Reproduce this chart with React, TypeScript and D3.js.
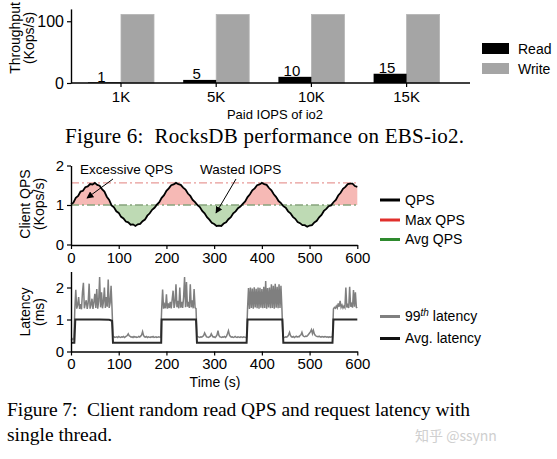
import React, { useEffect, useRef } from "react";
import * as d3 from "d3";

// Figure 6: RocksDB throughput per paid IOPS tier
const iopsTiers = ["1K", "5K", "10K", "15K"];
const readKops = [1, 5, 10, 15];
const writeKops = [111, 111, 111, 111];
const throughputTicks = [0, 100];

// Figure 7 (top): client QPS sampled every 5 s
const qpsStep = 5;
const clientQps = [
  1.02, 1.06, 1.18, 1.23, 1.34, 1.36, 1.45, 1.47, 1.53, 1.52, 1.56, 1.51, 1.49, 1.4, 1.34, 1.21, 1.13, 0.99,
  0.94, 0.84, 0.8, 0.7, 0.66, 0.58, 0.56, 0.5, 0.51, 0.47, 0.51, 0.52, 0.59, 0.63, 0.73, 0.79, 0.88, 0.93,
  1.01, 1.07, 1.18, 1.25, 1.36, 1.42, 1.5, 1.52, 1.56, 1.53, 1.51, 1.44, 1.39, 1.29, 1.23, 1.13, 1.07, 1.0,
  0.95, 0.85, 0.79, 0.69, 0.63, 0.55, 0.52, 0.47, 0.48, 0.47, 0.53, 0.56, 0.64, 0.69, 0.79, 0.84, 0.92, 0.96,
  1.03, 1.09, 1.2, 1.27, 1.37, 1.42, 1.5, 1.52, 1.56, 1.53, 1.51, 1.43, 1.37, 1.27, 1.2, 1.1, 1.05, 0.97,
  0.93, 0.84, 0.79, 0.7, 0.65, 0.57, 0.54, 0.49, 0.49, 0.45, 0.48, 0.49, 0.56, 0.6, 0.69, 0.75, 0.85, 0.9,
  0.97, 0.99, 1.07, 1.13, 1.24, 1.31, 1.41, 1.46, 1.53, 1.54, 1.54, 1.48, 1.46,
];
const maxQps = 1.56;
const avgQps = 1.0;
const qpsTicks = [0, 1, 2];
const timeTicks = [0, 100, 200, 300, 400, 500, 600];

// Figure 7 (bottom): latency in ms
const avgLatency: [number, number][] = [
  [0, 0.27], [7, 0.27], [9, 1.0], [60, 1.0], [80, 0.99], [86, 0.96], [88, 0.27],
  [189, 0.27], [190, 1.0], [262, 1.0], [264, 0.27], [368, 0.27], [370, 1.0],
  [443, 1.0], [445, 0.27], [548, 0.27], [550, 1.0], [600, 1.0],
];
// [start time, 99th percentile samples every 2 s]
const p99Step = 2;
const p99Segments: [number, number[]][] = [
  [0, [0.38, 0.36, 0.4, 0.37]],
  [8, [
    1.33, 1.93, 1.34, 1.45, 1.7, 1.33, 1.48, 1.32, 1.85, 2.15, 1.35, 1.5, 1.6, 1.33, 1.52, 2.12, 1.34, 1.46, 1.65, 1.33,
    1.55, 1.8, 1.36, 1.95, 1.34, 1.58, 2.33, 1.38, 1.85, 1.35, 1.55, 2.0, 1.36, 1.7, 1.4, 2.25, 1.36, 1.52, 2.05, 1.34,
  ]],
  [88, [
    0.47, 0.46, 0.44, 0.45, 0.46, 0.44, 0.47, 0.45, 0.44, 0.46, 0.45, 0.47, 0.44, 0.46, 0.48, 0.5, 0.55, 0.49, 0.47,
    0.45, 0.46, 0.44, 0.47, 0.45, 0.46, 0.44, 0.45, 0.47, 0.45, 0.48, 0.52, 0.62, 0.5, 0.46, 0.45, 0.47, 0.44, 0.46,
    0.45, 0.44, 0.46, 0.45, 0.47, 0.44, 0.45, 0.46, 0.44, 0.45, 0.46, 0.45, 0.44,
  ]],
  [190, [
    1.33, 1.94, 1.34, 1.46, 1.35, 1.79, 1.34, 1.5, 1.36, 1.55, 1.35, 1.62, 1.9, 1.36, 1.52, 2.1, 1.38, 1.58, 1.35,
    2.0, 1.37, 1.55, 1.36, 1.7, 2.33, 1.38, 2.17, 1.4, 1.55, 1.36, 2.1, 1.38, 1.6, 1.35, 1.95, 1.37, 1.34,
  ]],
  [264, [
    0.48, 0.46, 0.45, 0.44, 0.46, 0.45, 0.47, 0.5, 0.58, 0.52, 0.46, 0.45, 0.44, 0.46, 0.48, 0.55, 0.49, 0.45,
    0.46, 0.44, 0.47, 0.52, 0.65, 0.5, 0.46, 0.45, 0.44, 0.46, 0.45, 0.47, 0.44, 0.48, 0.56, 0.65, 0.52, 0.47,
    0.45, 0.46, 0.44, 0.45, 0.47, 0.45, 0.44, 0.46, 0.45, 0.44, 0.46, 0.45, 0.44, 0.46, 0.45, 0.44, 0.45,
  ]],
  [370, [
    1.35, 1.98, 1.33, 2.0, 1.36, 1.97, 1.34, 2.01, 1.38, 1.96, 1.35, 2.0, 1.34, 1.99, 1.37, 1.95, 1.35, 2.02, 1.36,
    2.2, 1.34, 1.98, 1.38, 2.0, 1.35, 2.1, 1.36, 2.05, 1.34, 2.12, 1.37, 2.02, 1.35, 2.1, 1.36, 2.05, 1.35,
  ]],
  [444, [
    0.47, 0.45, 0.44, 0.46, 0.45, 0.47, 0.52, 0.6, 0.5, 0.46, 0.45, 0.47, 0.44, 0.46, 0.48, 0.45, 0.47, 0.46,
    0.5, 0.52, 0.6, 0.5, 0.47, 0.46, 0.48, 0.47, 0.5, 0.54, 0.58, 0.62, 0.68, 0.56, 0.66, 0.55, 0.5, 0.48,
    0.47, 0.46, 0.48, 0.46, 0.45, 0.47, 0.46, 0.45, 0.47, 0.46, 0.45, 0.46, 0.44, 0.46, 0.45, 0.46, 0.45,
  ]],
  [550, [
    1.33, 1.38, 1.35, 1.42, 1.36, 1.5, 1.4, 1.58, 1.38, 1.45, 1.36, 1.42, 1.37, 2.0, 1.38, 1.45, 1.36, 2.02,
    1.4, 1.48, 1.37, 1.92, 1.4, 1.85, 1.38, 1.36,
  ]],
];
const latencyTicks = [0, 1, 2];

const sans = "Liberation Sans, Arial, Helvetica, sans-serif";
const serif = "Liberation Serif, Times New Roman, serif";

const App: React.FC = () => {
  const svgRef = useRef<SVGSVGElement | null>(null);

  useEffect(() => {
    const svg = d3.select(svgRef.current);
    svg.selectAll("*").remove();

    const styleAxis = (g: d3.Selection<SVGGElement, unknown, null, undefined>, size: number) => {
      g.select(".domain").attr("stroke-width", 1.4);
      g.selectAll(".tick line").attr("stroke-width", 1.2);
      g.selectAll(".tick text").style("font-family", sans).style("font-size", `${size}px`).attr("fill", "#000");
    };

    // ---------- Figure 6 ----------
    const f6 = svg.append("g");
    const x0 = d3.scaleBand<string>().domain(iopsTiers).range([73.4, 454.2]).paddingInner(0.3067).paddingOuter(0.1533);
    const x1 = d3.scaleBand<string>().domain(["Read", "Write"]).range([0, x0.bandwidth()]);
    const y6 = d3.scaleLinear().domain([0, 120]).range([83, 8.9]);

    iopsTiers.forEach((tier, i) => {
      const bx = x0(tier) ?? 0;
      f6.append("rect")
        .attr("x", bx + (x1("Write") ?? 0))
        .attr("y", y6(writeKops[i]))
        .attr("width", x1.bandwidth())
        .attr("height", y6(0) - y6(writeKops[i]))
        .attr("fill", "#a5a5a5")
        .attr("stroke", "#b4b4b4")
        .attr("stroke-width", 0.8);
      f6.append("rect")
        .attr("x", bx + (x1("Read") ?? 0))
        .attr("y", y6(readKops[i]))
        .attr("width", x1.bandwidth())
        .attr("height", y6(0) - y6(readKops[i]))
        .attr("fill", "#000");
      f6.append("text")
        .attr("x", bx + (x1("Read") ?? 0) + x1.bandwidth() / 2 - 3)
        .attr("y", y6(readKops[i]) - 0.5)
        .attr("text-anchor", "middle")
        .style("font-family", sans)
        .style("font-size", "15px")
        .text(readKops[i]);
    });

    const y6Axis = f6.append("g")
      .attr("transform", "translate(71,0)")
      .call(d3.axisLeft(y6).tickValues(throughputTicks).tickSize(4).tickSizeOuter(0).tickPadding(3));
    styleAxis(y6Axis, 16);

    const x6Axis = f6.append("g")
      .attr("transform", "translate(0,83)")
      .call(d3.axisBottom(x0).tickSize(4).tickPadding(4));
    x6Axis.select(".domain").remove();
    styleAxis(x6Axis, 15);
    f6.append("line").attr("x1", 71).attr("x2", 470).attr("y1", 83).attr("y2", 83).attr("stroke", "#000").attr("stroke-width", 1.4);

    f6.append("text")
      .attr("x", 275).attr("y", 119).attr("text-anchor", "middle")
      .style("font-family", sans).style("font-size", "13px")
      .text("Paid IOPS of io2");
    const t6 = f6.append("text")
      .attr("transform", "translate(20,38) rotate(-90)")
      .attr("text-anchor", "middle")
      .style("font-family", sans).style("font-size", "14px");
    t6.append("tspan").attr("x", 0).attr("dy", 0).text("Throughput");
    t6.append("tspan").attr("x", 0).attr("dy", 14).text("(Kops/s)");

    const leg6 = [["Read", "#000"], ["Write", "#a5a5a5"]];
    leg6.forEach(([name, color], i) => {
      f6.append("rect").attr("x", 482).attr("y", 43 + i * 20).attr("width", 27).attr("height", 11).attr("fill", color);
      f6.append("text").attr("x", 518).attr("y", 49 + i * 20).attr("dy", "0.35em")
        .style("font-family", sans).style("font-size", "14px").text(name);
    });

    svg.append("text")
      .attr("x", 65).attr("y", 143)
      .attr("textLength", 399).attr("lengthAdjust", "spacing")
      .style("font-family", serif).style("font-size", "21px").style("white-space", "pre")
      .text("Figure 6:  RocksDB performance on EBS-io2.");

    // ---------- Figure 7 top: client QPS ----------
    const xT = d3.scaleLinear().domain([0, 600]).range([71, 357.3]);
    const yQ = d3.scaleLinear().domain([0, 2]).range([244.5, 165.5]);
    const qps = clientQps.map((v, i) => ({ t: i * qpsStep, v }));
    const f7a = svg.append("g");

    f7a.append("path")
      .datum(qps)
      .attr("fill", "#f6b9b5")
      .attr("d", d3.area<{ t: number; v: number }>().x((d) => xT(d.t)).y0(yQ(avgQps)).y1((d) => yQ(Math.max(d.v, avgQps))));
    f7a.append("path")
      .datum(qps)
      .attr("fill", "#bedab4")
      .attr("d", d3.area<{ t: number; v: number }>().x((d) => xT(d.t)).y0(yQ(avgQps)).y1((d) => yQ(Math.min(d.v, avgQps))));

    f7a.append("line")
      .attr("x1", xT(0)).attr("x2", xT(600)).attr("y1", yQ(maxQps)).attr("y2", yQ(maxQps))
      .attr("stroke", "#e89a98").attr("stroke-width", 1.3).attr("stroke-dasharray", "8,3,2,3");
    f7a.append("line")
      .attr("x1", xT(0)).attr("x2", xT(600)).attr("y1", yQ(avgQps)).attr("y2", yQ(avgQps))
      .attr("stroke", "#86a47c").attr("stroke-width", 1.3).attr("stroke-dasharray", "8,3,2,3");

    f7a.append("path")
      .datum(qps)
      .attr("fill", "none").attr("stroke", "#000").attr("stroke-width", 1.8)
      .attr("d", d3.line<{ t: number; v: number }>().x((d) => xT(d.t)).y((d) => yQ(d.v)));

    const yQAxis = f7a.append("g").attr("transform", "translate(71,0)")
      .call(d3.axisLeft(yQ).tickValues(qpsTicks).tickFormat(d3.format("d")).tickSize(4).tickSizeOuter(0).tickPadding(3));
    styleAxis(yQAxis, 15);
    const xQAxis = f7a.append("g").attr("transform", "translate(0,245)")
      .call(d3.axisBottom(xT).tickValues(timeTicks).tickSize(4).tickSizeOuter(0).tickPadding(3));
    styleAxis(xQAxis, 15);

    const tQ = f7a.append("text")
      .attr("transform", "translate(30,204) rotate(-90)")
      .attr("text-anchor", "middle")
      .style("font-family", sans).style("font-size", "14px");
    tQ.append("tspan").attr("x", 0).attr("dy", 0).text("Client QPS");
    tQ.append("tspan").attr("x", 0).attr("dy", 14).text("(Kops/s)");

    const defs = svg.append("defs");
    defs.append("marker")
      .attr("id", "arrowhead").attr("viewBox", "0 0 10 10").attr("refX", 9).attr("refY", 5)
      .attr("markerWidth", 7).attr("markerHeight", 7).attr("orient", "auto-start-reverse")
      .append("path").attr("d", "M0,0 L10,5 L0,10 z").attr("fill", "#000");

    f7a.append("text").attr("x", 80).attr("y", 174)
      .style("font-family", sans).style("font-size", "13.5px").text("Excessive QPS");
    f7a.append("line").attr("x1", 113).attr("y1", 179).attr("x2", 87).attr("y2", 198)
      .attr("stroke", "#000").attr("stroke-width", 1).attr("marker-end", "url(#arrowhead)");
    f7a.append("text").attr("x", 200).attr("y", 174)
      .style("font-family", sans).style("font-size", "13.5px").text("Wasted IOPS");
    f7a.append("line").attr("x1", 236).attr("y1", 179).attr("x2", 216).attr("y2", 213)
      .attr("stroke", "#000").attr("stroke-width", 1).attr("marker-end", "url(#arrowhead)");

    const leg7a = [["QPS", "#000", 200], ["Max QPS", "#e0302c", 220], ["Avg QPS", "#2e8a2e", 239.5]] as const;
    leg7a.forEach(([name, color, ly]) => {
      f7a.append("line").attr("x1", 380).attr("x2", 400).attr("y1", ly).attr("y2", ly)
        .attr("stroke", color).attr("stroke-width", 3);
      f7a.append("text").attr("x", 405).attr("y", ly).attr("dy", "0.35em")
        .style("font-family", sans).style("font-size", "14px").text(name);
    });

    // ---------- Figure 7 bottom: latency ----------
    const yL = d3.scaleLinear().domain([0, 2.5]).range([351.5, 271.5]);
    const f7b = svg.append("g");
    const p99 = p99Segments.flatMap(([start, vals]) => vals.map((v, i) => ({ t: start + i * p99Step, v })));

    f7b.append("path")
      .datum(p99)
      .attr("fill", "none").attr("stroke", "#7f7f7f").attr("stroke-width", 1.5)
      .attr("d", d3.line<{ t: number; v: number }>().x((d) => xT(d.t)).y((d) => yL(d.v)));
    f7b.append("path")
      .datum(avgLatency)
      .attr("fill", "none").attr("stroke", "#2a2a2a").attr("stroke-width", 2)
      .attr("d", d3.line<[number, number]>().x((d) => xT(d[0])).y((d) => yL(d[1])));

    const yLAxis = f7b.append("g").attr("transform", "translate(71,0)")
      .call(d3.axisLeft(yL).tickValues(latencyTicks).tickFormat(d3.format("d")).tickSize(4).tickSizeOuter(0).tickPadding(3));
    styleAxis(yLAxis, 15);
    const xLAxis = f7b.append("g").attr("transform", "translate(0,351.5)")
      .call(d3.axisBottom(xT).tickValues(timeTicks).tickSize(4).tickSizeOuter(0).tickPadding(3));
    styleAxis(xLAxis, 15);

    f7b.append("text").attr("x", 215).attr("y", 387).attr("text-anchor", "middle")
      .style("font-family", sans).style("font-size", "14px").text("Time (s)");
    const tL = f7b.append("text")
      .attr("transform", "translate(30,312) rotate(-90)")
      .attr("text-anchor", "middle")
      .style("font-family", sans).style("font-size", "14px");
    tL.append("tspan").attr("x", 0).attr("dy", 0).text("Latency");
    tL.append("tspan").attr("x", 0).attr("dy", 14).text("(ms)");

    const leg7b = [["#808080", 316.5], ["#111", 338.5]] as const;
    leg7b.forEach(([color, ly]) => {
      f7b.append("line").attr("x1", 380).attr("x2", 400).attr("y1", ly).attr("y2", ly)
        .attr("stroke", color).attr("stroke-width", 3);
    });
    const l99 = f7b.append("text").attr("x", 405).attr("y", 316.5).attr("dy", "0.35em")
      .style("font-family", sans).style("font-size", "14px");
    l99.append("tspan").text("99");
    l99.append("tspan").attr("dy", -5).style("font-size", "10px").style("font-style", "italic").text("th");
    l99.append("tspan").attr("dy", 5).text(" latency");
    f7b.append("text").attr("x", 405).attr("y", 338.5).attr("dy", "0.35em")
      .style("font-family", sans).style("font-size", "14px").text("Avg. latency");

    svg.append("text")
      .attr("x", 7).attr("y", 416)
      .attr("textLength", 463).attr("lengthAdjust", "spacing")
      .style("font-family", serif).style("font-size", "19.5px").style("white-space", "pre")
      .text("Figure 7:  Client random read QPS and request latency with");
    svg.append("text")
      .attr("x", 7).attr("y", 441)
      .style("font-family", serif).style("font-size", "19.5px")
      .text("single thread.");
    svg.append("text")
      .attr("x", 415).attr("y", 441)
      .style("font-family", "Noto Sans CJK SC, sans-serif").style("font-size", "14px").attr("fill", "#cfcfcf")
      .text("知乎 @ssynn");
  }, []);

  return (
    <div style={{ position: "fixed", left: 0, top: 0, background: "#fff" }}>
      <svg ref={svgRef} width={557} height={459} style={{ display: "block" }} />
    </div>
  );
};

export default App;
